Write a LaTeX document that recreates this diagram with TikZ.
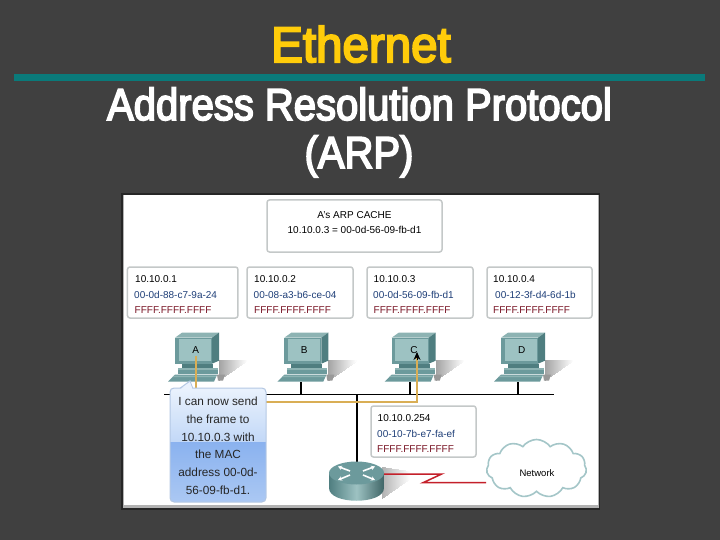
\documentclass[tikz,border=0pt]{standalone}
\usepackage{fontspec}
\setmainfont{Liberation Sans}
\newfontfamily\heavytitle{Liberation Sans}[FakeBold=4]
\usetikzlibrary{arrows.meta,shapes.symbols,shapes.geometric}
\definecolor{slide}{HTML}{404040}
\definecolor{tealbar}{HTML}{0A7A7A}
\definecolor{titleyel}{HTML}{FFCC0A}
\definecolor{boxedge}{HTML}{C4C8C8}
\definecolor{ipblue}{HTML}{1F3F78}
\definecolor{ffred}{HTML}{7A1626}
\definecolor{wireor}{HTML}{D9AE55}
\definecolor{linkred}{HTML}{C4202A}
\definecolor{pcface}{HTML}{6C9A9C}
\definecolor{pcscreen}{HTML}{9DC2C2}
\definecolor{pctop}{HTML}{8DB3B3}
\definecolor{pcside}{HTML}{4F7E80}
\definecolor{cloudedge}{HTML}{A4C6C8}
\definecolor{calloutedge}{HTML}{B4C8E4}
\definecolor{callA}{HTML}{EAF2FD}
\definecolor{callB}{HTML}{C2D8F7}
\definecolor{callC}{HTML}{8AB2EF}
\definecolor{callD}{HTML}{ABC8F3}
\tikzset{
 x=1pt,y=-1pt,
 addrbox/.style={draw=boxedge,line width=1.5pt,rounded corners=2.5pt,fill=white},
 addrtxt/.style={anchor=west,font=\fontsize{10}{12}\selectfont,inner sep=0pt},
 pclabel/.style={font=\fontsize{10}{12}\selectfont,inner sep=0.5pt},
 bigtitle/.style={anchor=base,inner sep=0pt,font=\heavytitle},
 busline/.style={line width=1.3pt,black},
 wire/.style={line width=1.2pt,wireor},
 calltxt/.style={font=\fontsize{11.8}{14}\selectfont,inner sep=0pt,text=black!85},
 pics/computer/.style={code={
  \foreach \i in {0,...,27}{
    \pgfmathsetmacro{\sh}{36*(1-\i/28)}
    \pgfmathsetmacro{\yb}{48-\i*0.68}
    \fill[black!\sh!white] (44+\i,27) rectangle (45.2+\i,\yb);
  }
  \fill[pctop] (0,5)--(7,0)--(44,0)--(37,5)--cycle;
  \fill[pcside] (37,5)--(44,0)--(44,28)--(37,31)--cycle;
  \fill[pcface] (0,5) rectangle (37,31);
  \fill[pcscreen] (3.5,6) rectangle (36,28);
  \fill[pcside] (7,31) rectangle (38,35);
  \fill[pctop] (3,35) rectangle (43,37);
  \fill[pcface] (3,37) rectangle (43,41);
  \fill[pcface] (-7,49)--(0,42)--(42,42)--(39,49)--cycle;
  \fill[pctop] (-1,43) -- (41,43) -- (41,44.5) -- (-2.5,44.5) --cycle;
  \fill[black!40] (42,42)--(50,42)--(48,48)--(43,48)--cycle;
 }}
}
\begin{document}
\begin{tikzpicture}
\useasboundingbox (0,0) rectangle (720,540);
\fill[slide] (0,0) rectangle (720,540);
% titles
\node[bigtitle,text=titleyel] (title) at (361,62) {\fontsize{50}{50}\selectfont\scalebox{0.95}[1]{Ethernet}};
\fill[tealbar] (14,74) rectangle (705,81);
\node[bigtitle,text=white] (sub1) at (359.5,120) {\fontsize{44.7}{50}\selectfont\scalebox{0.895}[1]{Address Resolution Protocol}};
\node[bigtitle,text=white] (sub2) at (359,168) {\fontsize{44.7}{50}\selectfont\scalebox{0.895}[1]{(ARP)}};
% panel
\fill[black!85] (121,193) rectangle (600,510);
\fill[black!30] (123,195) rectangle (599,508);
\fill[white] (124,195) rectangle (598,505);
% cache
\node[addrbox,minimum width=175pt,minimum height=52pt] (cache) at (354.5,226) {};
\node[font=\fontsize{10}{12}\selectfont,inner sep=0pt] (cachehead) at (354.5,215) {A's ARP CACHE};
\node[font=\fontsize{10}{12}\selectfont,inner sep=0pt] (cacheline) at (354.5,230) {10.10.0.3 = 00-0d-56-09-fb-d1};
% address boxes
\node[addrbox,minimum width=110.5pt,minimum height=51pt] (boxA) at (182.7,292.5) {};
\node[addrbox,minimum width=106pt,minimum height=51pt] (boxB) at (300,292.5) {};
\node[addrbox,minimum width=106pt,minimum height=51pt] (boxC) at (420,292.5) {};
\node[addrbox,minimum width=105pt,minimum height=51pt] (boxD) at (539.5,292.5) {};
\node[addrbox,minimum width=105pt,minimum height=51pt] (boxR) at (423.5,431.5) {};
\node[addrtxt] (a1) at (135,279) {10.10.0.1};
\node[addrtxt,text=ipblue] (a2) at (134,295) {00-0d-88-c7-9a-24};
\node[addrtxt,text=ffred] (a3) at (134.5,310) {FFFF.FFFF.FFFF};
\node[addrtxt] (b1) at (254,279) {10.10.0.2};
\node[addrtxt,text=ipblue] (b2) at (253.5,295) {00-08-a3-b6-ce-04};
\node[addrtxt,text=ffred] (b3) at (254,310) {FFFF.FFFF.FFFF};
\node[addrtxt] (c1) at (373.5,279) {10.10.0.3};
\node[addrtxt,text=ipblue] (c2) at (373,295) {00-0d-56-09-fb-d1};
\node[addrtxt,text=ffred] (c3) at (373.5,310) {FFFF.FFFF.FFFF};
\node[addrtxt] (d1) at (493,279) {10.10.0.4};
\node[addrtxt,text=ipblue] (d2) at (495,295) {00-12-3f-d4-6d-1b};
\node[addrtxt,text=ffred] (d3) at (493,310) {FFFF.FFFF.FFFF};
\node[addrtxt] (r1) at (377.5,418.5) {10.10.0.254};
\node[addrtxt,text=ipblue] (r2) at (377,434) {00-10-7b-e7-fa-ef};
\node[addrtxt,text=ffred] (r3) at (377,449) {FFFF.FFFF.FFFF};
% bus and drops
\coordinate (busL) at (164,394.5);
\coordinate (busR) at (554,394.5);
\coordinate (dropA) at (196,382);
\coordinate (dropB) at (301,382);
\coordinate (dropC) at (410,382);
\coordinate (dropD) at (518,382);
\coordinate (routerTop) at (357,465);
\draw[busline] (busL) -- (busR);
\foreach \d in {dropA,dropB,dropC,dropD}{\draw[busline] (\d) -- (\d |- busL);}
\draw[busline] (routerTop) -- (routerTop |- busL);
% computers
\pic at (175,332.7) {computer};
\pic at (284.3,332.7) {computer};
\pic at (391.7,332.7) {computer};
\pic at (501,332.7) {computer};
\node[pclabel] (labA) at (195.7,350) {A};
\node[pclabel] (labB) at (304.3,350) {B};
\node[pclabel] (labC) at (414,350) {C};
\node[pclabel] (labD) at (521.7,350) {D};
% frame path
\coordinate (frameA) at (196,355.5);
\coordinate (frameC) at (417,352);
\coordinate (frameTurn) at (417,402);
\draw[wire] (frameA) |- (frameTurn) -- (417,358);
\draw[-{Stealth[black,length=8pt,width=7pt]},line width=1pt,black] (417,360) -- (frameC);
% callout
\fill[callA,draw=calloutedge,line width=1pt] (179,389) -- (190,381) -- (193,389) -- cycle;
\begin{scope}
\clip[rounded corners=4pt] (170,388) rectangle (266,502);
\fill[top color=callA,bottom color=callB] (170,388) rectangle (266,442);
\fill[top color=callC,bottom color=callD] (170,442) rectangle (266,502);
\end{scope}
\draw[calloutedge,line width=1pt,rounded corners=4pt] (170,388) rectangle (266,502);
\fill[callA] (180.5,389.2) -- (190,382.5) -- (192.5,389.2) -- cycle;
\node[calltxt] (t1) at (218,401.7) {I can now send};
\node[calltxt] (t2) at (218,419.2) {the frame to};
\node[calltxt] (t3) at (218,437) {10.10.0.3 with};
\node[calltxt] (t4) at (218,454.7) {the MAC};
\node[calltxt] (t5) at (218,472.5) {address 00-0d-};
\node[calltxt] (t6) at (218,490) {56-09-fb-d1.};
% router
\foreach \i in {0,...,27}{
  \pgfmathsetmacro{\sh}{30*(1-\i/28)}
  \fill[black!\sh!white] (382+\i,467+\i*0.15) rectangle (383.2+\i,499-\i*0.7);
}
\path[left color=pcside,right color=pcside!80!black,middle color=pcscreen]
 (329,473) -- (329,488) .. controls (329,505) and (384,505) .. (384,488) -- (384,473) -- cycle;
\node[ellipse,fill=pcface,minimum width=55pt,minimum height=23pt,inner sep=0pt] (router) at (356.5,473) {};
\draw[white,line width=1.6pt,-{Stealth[length=4pt,width=4.5pt]}] (350,471) -- (338,466.5);
\draw[white,line width=1.6pt,-{Stealth[length=4pt,width=4.5pt]}] (363,475) -- (375,480);
\draw[white,line width=1.6pt,-{Stealth[length=4pt,width=4.5pt]}] (363,471) -- (375,466.5);
\draw[white,line width=1.6pt,-{Stealth[length=4pt,width=4.5pt]}] (350,475) -- (338,480);
% cloud
\node[cloud,cloud puffs=11,cloud puff arc=110,aspect=1.75,draw=cloudedge,line width=1.6pt,fill=white,minimum width=100pt,minimum height=58pt,inner sep=0pt] (net) at (536.5,468.5) {};
\node[font=\fontsize{9.5}{11}\selectfont,inner sep=0pt] (netlabel) at (537,473) {Network};
% serial link
\coordinate (lk1) at (441.7,474);
\coordinate (lk2) at (423,482.7);
\draw[linkred,line width=1.5pt,line join=miter] (router.east |- lk1) -- (lk1) -- (lk2) -- (net.west |- lk2);
\end{tikzpicture}
\end{document}
